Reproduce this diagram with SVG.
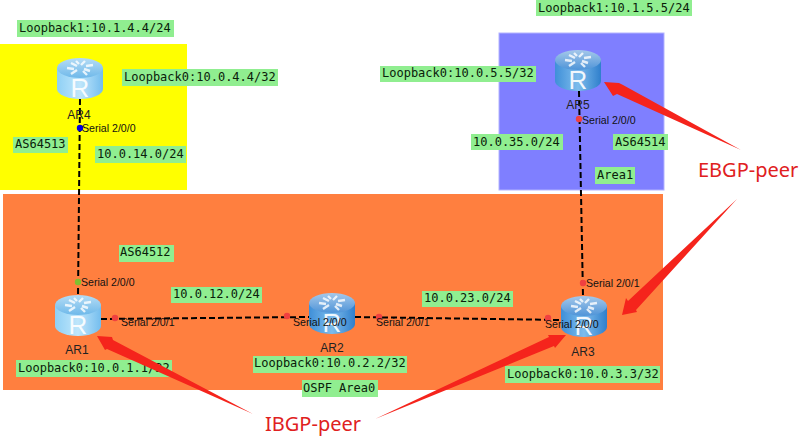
<svg xmlns="http://www.w3.org/2000/svg" width="801" height="437" viewBox="0 0 801 437">
<style>
.lb{fill:#90ee90}
.t{font-family:"DejaVu Sans Mono","Liberation Mono",monospace;font-size:12px;fill:#0a200a}
.s{font-family:"Liberation Sans",Arial,sans-serif;font-size:10.6px;fill:#111}
.n{font-family:"Liberation Sans",Arial,sans-serif;font-size:12px;fill:#222;text-anchor:middle}
.p{font-family:"Noto Sans",sans-serif;font-size:20px;fill:#e02020}
.c{fill:none;stroke:#000;stroke-width:2;stroke-dasharray:6 3}
.a{fill:#f5241c}
.r{font-family:"Liberation Sans",Arial,sans-serif;font-size:26px;fill:#fff;text-anchor:middle;opacity:.9}
.w{fill:none;stroke:#fff;stroke-width:2.4;opacity:.8}
</style>
<defs>
<linearGradient id="lb" x1="0" x2="1" y1="0" y2="0"><stop offset="0" stop-color="#8fd0f5"/><stop offset=".5" stop-color="#bfe6fb"/><stop offset="1" stop-color="#74bdee"/></linearGradient>
<linearGradient id="lt" x1="0" x2="0" y1="0" y2="1"><stop offset="0" stop-color="#b5dcf5"/><stop offset="1" stop-color="#6fb9ea"/></linearGradient>
<linearGradient id="db" x1="0" x2="1" y1="0" y2="0"><stop offset="0" stop-color="#3f8fd8"/><stop offset=".5" stop-color="#7dbcec"/><stop offset="1" stop-color="#2f7fcc"/></linearGradient>
<linearGradient id="dt" x1="0" x2="0" y1="0" y2="1"><stop offset="0" stop-color="#a5c8ea"/><stop offset="1" stop-color="#4f94d8"/></linearGradient>
<g id="marks">
<path class="w" d="M14,5 L20,8 M28,3 L24,7 M33,13 L27,11 M14,16 L20,12 M10,10 L17,11 M36,7 L29,8 M30,17 L26,13 M19,3 L22,6"/>
<text class="r" x="23" y="39">R</text>
</g>
<symbol id="rl" overflow="visible"><path d="M0,10 V31 A23,10 0 0 0 46,31 V10 Z" fill="url(#lb)"/><ellipse cx="23" cy="10" rx="23" ry="10" fill="url(#lt)"/><use href="#marks"/></symbol>
<symbol id="rd" overflow="visible"><path d="M0,10 V31 A23,10 0 0 0 46,31 V10 Z" fill="url(#db)"/><ellipse cx="23" cy="10" rx="23" ry="10" fill="url(#dt)"/><use href="#marks"/></symbol>
</defs>
<rect width="801" height="437" fill="#fff"/>
<g id="areas">
<rect x="0" y="44" width="187" height="146" fill="#ffff00"/>
<rect x="499" y="33" width="165" height="157" fill="#7f7fff" stroke="#b3b3ff"/>
<rect x="3" y="194" width="660" height="196" fill="#ff7f3f"/>
</g>
<g id="connectors">
<path class="c" d="M80,99 L78,295"/>
<path class="c" d="M101,319 L309,317"/>
<path class="c" d="M355,317 L561,320"/>
<path class="c" d="M579,91 L583,296"/>
</g>
<g id="AR4"><use href="#rl" x="57" y="58"/><text class="n" x="79" y="119">AR4</text><circle cx="80" cy="128" r="3.2" fill="#0000e0"/><text class="s" x="82" y="132">Serial 2/0/0</text></g>
<g id="AR5"><use href="#rd" x="555" y="50"/><text class="n" x="578" y="109">AR5</text><circle cx="579" cy="119" r="3.2" fill="#f04040"/><text class="s" x="582" y="124">Serial 2/0/0</text></g>
<g id="AR1"><use href="#rl" x="55" y="295"/><text class="n" x="77" y="354">AR1</text><circle cx="78" cy="282" r="3.2" fill="#80c030"/><text class="s" x="81" y="286">Serial 2/0/0</text><circle cx="115" cy="318" r="3.2" fill="#f04040"/><text class="s" x="121" y="326">Serial 2/0/1</text></g>
<g id="AR2"><use href="#rd" x="309" y="293"/><text class="n" x="332" y="352">AR2</text><circle cx="287" cy="316" r="3.2" fill="#f04040"/><text class="s" x="293" y="326">Serial 2/0/0</text><circle cx="379" cy="317" r="3.2" fill="#f04040"/><text class="s" x="376" y="326">Serial 2/0/1</text></g>
<g id="AR3"><use href="#rd" x="561" y="296"/><text class="n" x="583" y="356">AR3</text><circle cx="583" cy="283" r="3.2" fill="#f04040"/><text class="s" x="586" y="287">Serial 2/0/1</text><circle cx="548" cy="318" r="3.2" fill="#f04040"/><text class="s" x="545" y="328">Serial 2/0/0</text></g>
<g id="labels">
<rect class="lb" x="17" y="20" width="157" height="17"/><text class="t" x="19" y="32">Loopback1:10.1.4.4/24</text>
<rect class="lb" x="122" y="69" width="156" height="17"/><text class="t" x="124" y="81">Loopback0:10.0.4.4/32</text>
<rect class="lb" x="13" y="137" width="55" height="16"/><text class="t" x="15" y="148">AS64513</text>
<rect class="lb" x="95" y="146" width="91" height="17"/><text class="t" x="97" y="158">10.0.14.0/24</text>
<rect class="lb" x="536" y="0" width="156" height="16"/><text class="t" x="538" y="12">Loopback1:10.1.5.5/24</text>
<rect class="lb" x="380" y="66" width="156" height="16"/><text class="t" x="382" y="77">Loopback0:10.0.5.5/32</text>
<rect class="lb" x="471" y="134" width="92" height="16"/><text class="t" x="473" y="146">10.0.35.0/24</text>
<rect class="lb" x="613" y="134" width="55" height="16"/><text class="t" x="615" y="146">AS64514</text>
<rect class="lb" x="595" y="167" width="40" height="17"/><text class="t" x="597" y="179">Area1</text>
<rect class="lb" x="119" y="245" width="55" height="17"/><text class="t" x="120" y="256">AS64512</text>
<rect class="lb" x="171" y="287" width="91" height="16"/><text class="t" x="173" y="298">10.0.12.0/24</text>
<rect class="lb" x="16" y="360" width="156" height="17"/><text class="t" x="18" y="372">Loopback0:10.0.1.1/32</text>
<rect class="lb" x="253" y="356" width="154" height="17"/><text class="t" x="254" y="367">Loopback0:10.0.2.2/32</text>
<rect class="lb" x="302" y="380" width="76" height="17"/><text class="t" x="303" y="392">OSPF Area0</text>
<rect class="lb" x="422" y="291" width="91" height="16"/><text class="t" x="424" y="302">10.0.23.0/24</text>
<rect class="lb" x="505" y="366" width="155" height="17"/><text class="t" x="507" y="378">Loopback0:10.0.3.3/32</text>
</g>
<g id="callouts">
<polygon class="a" points="741,150 623,85 619,83 604,82 613,96 617,94"/>
<polygon class="a" points="737,199 636,310 637,312 622,315 626,298 628,301"/>
<polygon class="a" points="253,414 113,340 112,337 97,336 105,350 107,349"/>
<polygon class="a" points="375,419 549,337 548,335 566,335 555,348 554,346"/>
<text class="p" x="698" y="177">EBGP-peer</text>
<text class="p" x="265" y="431">IBGP-peer</text>
</g>
</svg>
